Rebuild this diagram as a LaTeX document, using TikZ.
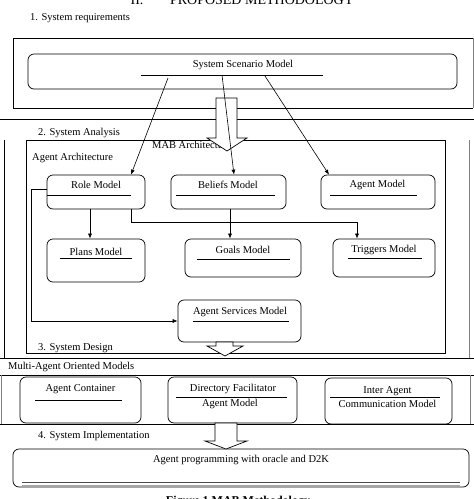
\documentclass[tikz,border=0pt]{standalone}
\usepackage{fontspec}
\setmainfont{Liberation Serif}
\usetikzlibrary{arrows.meta}

\begin{document}
\begin{tikzpicture}[
		x=1pt,
		y=-1pt,
		model/.style={draw, rounded corners=6pt, line width=0.7pt, inner sep=0pt},
		lbl/.style={inner sep=0pt, font=\fontsize{10.5}{12}\selectfont},
		hd/.style={lbl, anchor=west},
		link/.style={line width=0.6pt, -{Latex[length=5pt,width=4pt]}},
		blockarrow/.style={draw, fill=white, line width=0.7pt}
	]
		\clip (0,0) rectangle (474,499);

		% Captions (cut by the page)
		\node[anchor=base, inner sep=0pt, font=\fontsize{14}{16}\selectfont] (sec) at (137,4) {II.};
		\node[anchor=base, inner sep=0pt, font=\fontsize{14}{16}\selectfont] (sec-t) at (262,4) {PROPOSED METHODOLOGY};
		\node[anchor=base, inner sep=0pt, font=\fontsize{12}{14}\selectfont\bfseries] (fig) at (238,504) {Figure 1 MAB Methodology};

		% 1. System requirements
		\node[hd] (req) at (30,18) {1. System requirements};
		\draw [line width=0.7pt] (13,38) -- (473,38);
		\draw [line width=0.7pt] (13,38) -- (13,108) -- (473,108);
		\draw [gray] (473,38) -- (473,108);
		\node[model, minimum width=429, minimum height=35] (scen) at (242.5,71.5) {};
		\node[lbl] (scen-t) at (243,65) {System Scenario Model};
		\draw [line width=0.5pt] (141,75) -- (323,75);

		% 2. System Analysis
		\draw [line width=0.7pt] (0,119) -- (474,119);
		\node[hd] (ana) at (38,133) {2. System Analysis};
		\draw [line width=0.7pt] (4,140) -- (4,358);
		\draw [gray, line width=0.7pt] (469,140) -- (469,358);
		\draw [line width=0.7pt] (26,140) rectangle (445,353);
		\node[hd] (mab) at (152,145) {MAB Architecture};
		\node[hd] (arch) at (32,158) {Agent Architecture};

		\node[model, minimum width=98, minimum height=34] (role) at (96,192) {};
		\node[lbl] (role-t) at (96,185) {Role Model};
		\draw [line width=0.5pt] (47,195) -- (131,195);

		\node[model, minimum width=115, minimum height=34] (beliefs) at (228.5,192) {};
		\node[lbl] (beliefs-t) at (228,185) {Beliefs Model};
		\draw [line width=0.5pt] (176,195) -- (275,195);

		\node[model, minimum width=114, minimum height=34] (agent) at (378,192) {};
		\node[lbl] (agent-t) at (377.5,185) {Agent Model};
		\draw [line width=0.5pt] (330,195) -- (417,195);

		\node[model, minimum width=98, minimum height=43] (plans) at (96,260.5) {};
		\node[lbl] (plans-t) at (96,252) {Plans Model};
		\draw [line width=0.5pt] (60,258) -- (132,258);

		\node[model, minimum width=116, minimum height=38] (goals) at (243,258) {};
		\node[lbl] (goals-t) at (243,250) {Goals Model};
		\draw [line width=0.5pt] (197,259) -- (290,259);

		\node[model, minimum width=102, minimum height=38] (triggers) at (384,258) {};
		\node[lbl] (triggers-t) at (384,250) {Triggers Model};
		\draw [line width=0.5pt] (348,258) -- (422,258);

		\node[model, minimum width=123, minimum height=42] (services) at (239.5,321) {};
		\node[lbl] (services-t) at (240,312) {Agent Services Model};
		\draw [line width=0.5pt] (193,321) -- (289,321);

		% block arrow requirements -> analysis
		\draw [blockarrow] (216,98) -- (237,98) -- (237,138) -- (247,138) -- (227,151) -- (207,138) -- (216,138) -- cycle;

		\coordinate (s1) at (168,78);
		\coordinate (s2) at (222,75);
		\coordinate (s3) at (265,76);
		\draw [link] (s1) -- ([xshift=35pt]role.north);
		\draw [link] (s2) -- ([xshift=5.5pt]beliefs.north);
		\draw [link] (s3) -- ([xshift=-49pt]agent.north);

		\draw [link] ([xshift=-6pt]role.south) -- ([xshift=-6pt]plans.north);
		\draw [link] ([xshift=1.5pt]beliefs.south) -- ([xshift=1.5pt]beliefs.south |- goals.north);
		\draw [link] ([xshift=35pt]role.south) -- ++(0,13) -| ([xshift=-27pt]triggers.north);
		\draw [link] ([yshift=3pt]role.west) -- ++(-15,0) |- (services.west);

		% 3. System Design
		\node[hd] (des) at (38,348) {3. System Design};
		\draw [blockarrow] (216,342) -- (233,342) -- (233,346) -- (243,346) -- (225,356) -- (207,346) -- (216,346) -- cycle;
		\draw [line width=0.7pt] (0,358) -- (474,358);

		\node[hd] (mao) at (8,367) {Multi-Agent Oriented Models};
		\draw [line width=0.7pt] (0,375) -- (474,375);
		\draw [line width=0.7pt] (0,424) -- (474,424);
		\draw [gray, line width=0.7pt] (1,375) -- (1,424);
		\draw [gray, line width=0.7pt] (470,375) -- (470,424);

		\node[model, minimum width=121, minimum height=46] (container) at (80.5,400) {};
		\node[lbl] (container-t) at (80.5,389) {Agent Container};
		\draw [line width=0.5pt] (35,400) -- (122,400);

		\node[model, minimum width=129, minimum height=46] (df) at (232.5,400) {};
		\node[lbl] (df-t) at (233,389) {Directory Facilitator};
		\draw [line width=0.5pt] (176,397) -- (287,397);
		\node[lbl] (df-t2) at (230,404) {Agent Model};

		\node[model, minimum width=127, minimum height=46] (comm) at (388.5,401) {};
		\node[lbl] (comm-t) at (387.5,391) {Inter Agent};
		\draw [line width=0.5pt] (330,397) -- (440,397);
		\node[lbl] (comm-t2) at (387.5,404) {Communication Model};

		% 4. System Implementation
		\node[hd] (imp) at (38,436) {4. System Implementation};
		\node[model, minimum width=456, minimum height=38] (prog) at (241,468) {};
		\node[lbl] (prog-t) at (241,460) {Agent programming with oracle and D2K};
		\draw [black!70, line width=0.7pt] (22,482) -- (460,482);
		\draw [black!35, line width=0.7pt] (22,485) -- (460,485);
		\draw [blockarrow] (215,423) -- (237,423) -- (237,441) -- (247,441) -- (226,449) -- (205,441) -- (215,441) -- cycle;
	\end{tikzpicture}
\end{document}
